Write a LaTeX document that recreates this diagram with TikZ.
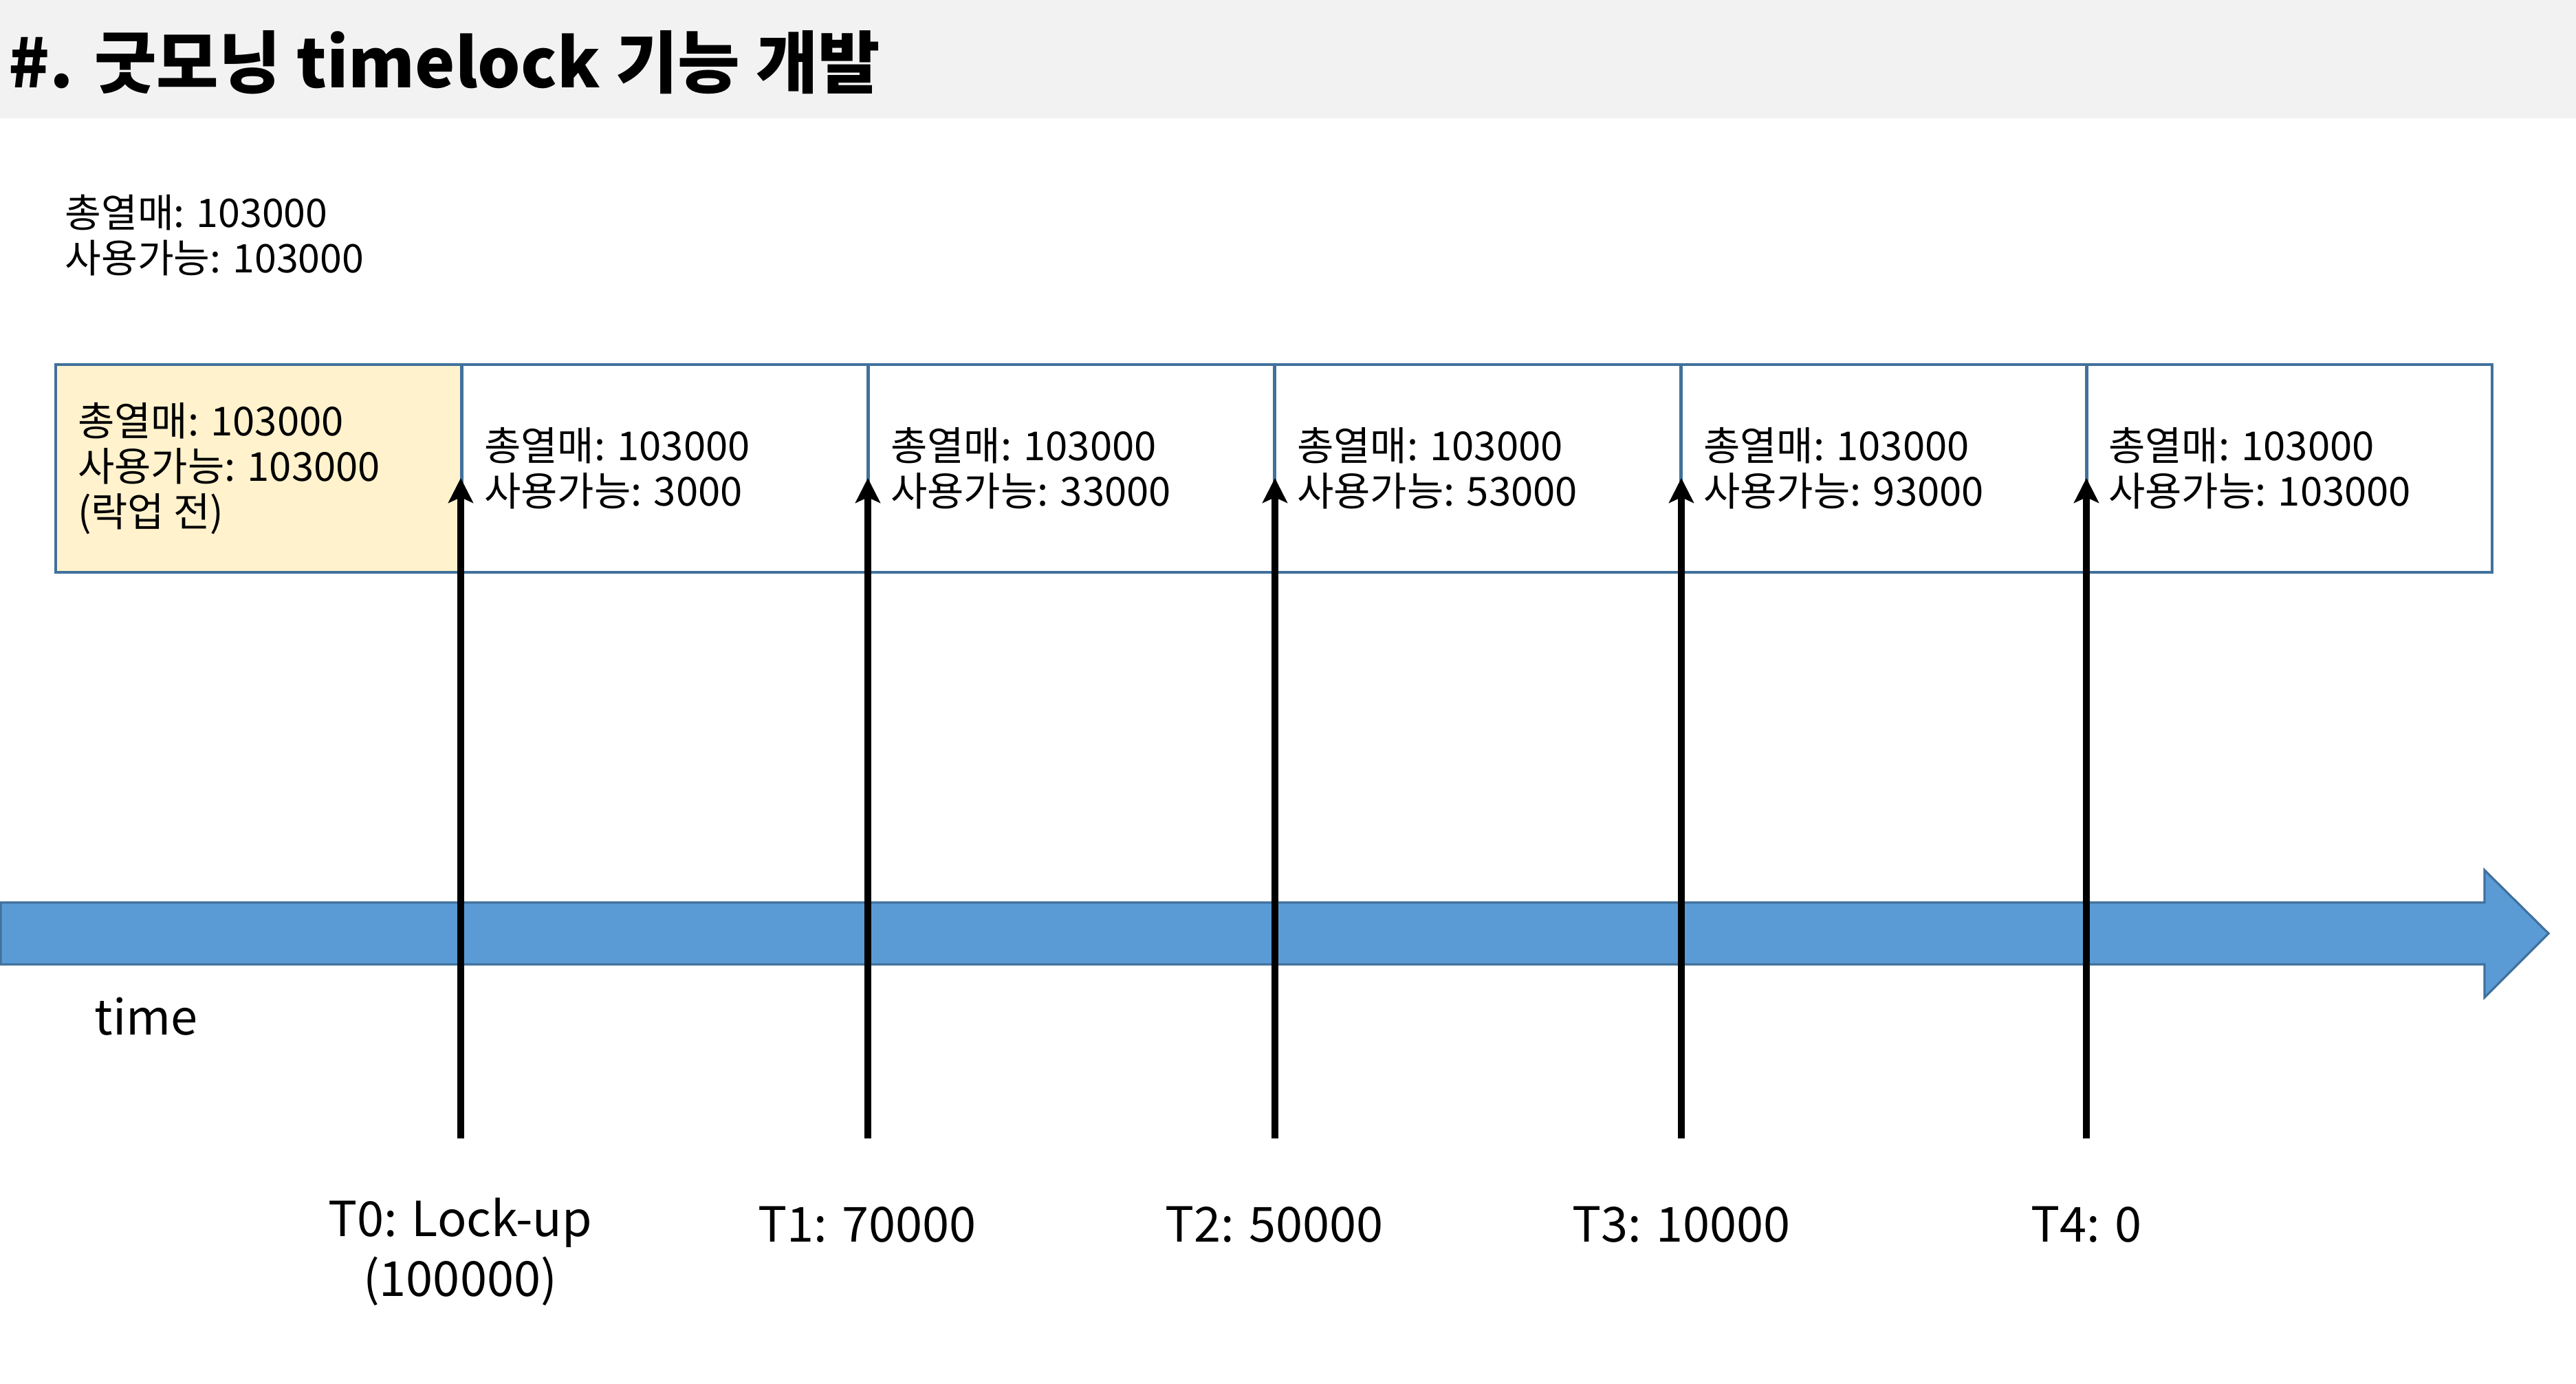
\documentclass[tikz,border=0pt]{standalone}
\usepackage{fontspec}
\setmainfont{Noto Sans CJK KR}
\usetikzlibrary{arrows.meta}
\definecolor{barre}{HTML}{F2F2F2}
\definecolor{bord}{HTML}{41719C}
\definecolor{fleuve}{HTML}{5B9BD5}
\definecolor{avant}{HTML}{FFF2CC}
\begin{document}
\begin{tikzpicture}[release/.style={-{Stealth[length=0.36cm, width=0.36cm, inset=0.08cm]}, line width=3pt}]
        \tikzset{slot/.style={rectangle, draw=bord, line width=0.9pt, minimum width=5.9cm, minimum height=3.02cm, text width=5.26cm, inner xsep=0.32cm, align=flush left, font=\fontsize{16.5}{18.7}\selectfont}};
        \tikzset{stamp/.style={align=center, font=\fontsize{20}{24.7}\selectfont}};
        \useasboundingbox (0, 0) rectangle (37.46, 20.12);
        \fill[barre] (0, 18.40) rectangle (37.46, 20.12);
        \node[anchor=west, inner sep=0, font=\fontsize{28}{33}\selectfont\bfseries] (titre) at (0.12, 19.21) {\#. 굿모닝 timelock 기능 개발};

        \node[anchor=west, inner sep=0, align=left, font=\fontsize{16.3}{18.7}\selectfont] (etat) at (0.94, 16.70) {총열매: 103000\\사용가능: 103000};

        \node[slot, fill=avant] (s0) at (3.76, 13.31) {총열매: 103000\\사용가능: 103000\\(락업 전)};
        \node[slot] (s1) at (9.67, 13.31) {총열매: 103000\\사용가능: 3000};
        \node[slot] (s2) at (15.58, 13.31) {총열매: 103000\\사용가능: 33000};
        \node[slot] (s3) at (21.49, 13.31) {총열매: 103000\\사용가능: 53000};
        \node[slot] (s4) at (27.40, 13.31) {총열매: 103000\\사용가능: 93000};
        \node[slot] (s5) at (33.29, 13.31) {총열매: 103000\\사용가능: 103000};

        % time axis
        \draw[bord, fill=fleuve, line width=0.9pt] (0.01, 6.10) -- (36.13, 6.10) -- (36.13, 5.62) -- (37.06, 6.55)
            -- (36.13, 7.47) -- (36.13, 7.00) -- (0.01, 7.00) -- cycle;
        \node[anchor=base west, inner sep=0, font=\fontsize{20}{24}\selectfont] (temps) at (1.37, 5.07) {time};

        \coordinate (b0) at (6.70, 3.57);
        \coordinate (b1) at (12.62, 3.57);
        \coordinate (b2) at (18.54, 3.57);
        \coordinate (b3) at (24.45, 3.57);
        \coordinate (b4) at (30.34, 3.57);
        \coordinate (h0) at (6.70, 13.17);
        \coordinate (h1) at (12.62, 13.17);
        \coordinate (h2) at (18.54, 13.17);
        \coordinate (h3) at (24.45, 13.17);
        \coordinate (h4) at (30.34, 13.17);
        \draw[release] (b0) -- (h0);
        \draw[release] (b1) -- (h1);
        \draw[release] (b2) -- (h2);
        \draw[release] (b3) -- (h3);
        \draw[release] (b4) -- (h4);

        \node[stamp] (t0) at (6.69, 1.92) {T0: Lock-up\\(100000)};
        \node[stamp] (t1) at (12.61, 2.32) {T1: 70000};
        \node[stamp] (t2) at (18.53, 2.32) {T2: 50000};
        \node[stamp] (t3) at (24.45, 2.32) {T3: 10000};
        \node[stamp] (t4) at (30.34, 2.32) {T4: 0};
    \end{tikzpicture}
\end{document}
